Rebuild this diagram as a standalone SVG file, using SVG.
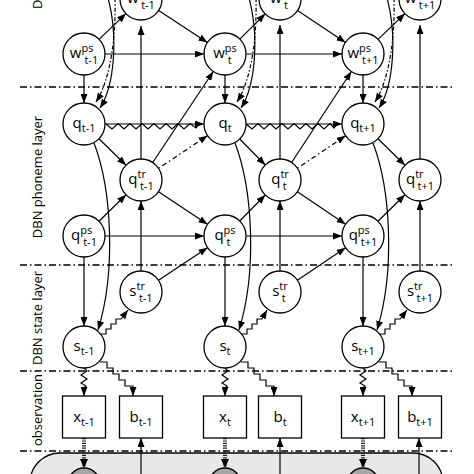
<svg xmlns="http://www.w3.org/2000/svg" width="474" height="474" viewBox="0 0 474 474">
<style>
.n{fill:#fff;stroke:#000;stroke-width:1.3}
.bx{fill:#fff;stroke:#000;stroke-width:1.3}
.t{font-family:"Open Sans","DejaVu Sans",sans-serif;font-size:15px;fill:#000;text-anchor:middle}
.s{font-size:11px}
.lay{font-family:"Open Sans","DejaVu Sans",sans-serif;font-size:13px;fill:#000}
.e{fill:none;stroke:#000;stroke-width:1.2;marker-end:url(#ah)}
.ln{fill:none;stroke:#000;stroke-width:1.2}
.dd{fill:none;stroke:#000;stroke-width:1.2;stroke-dasharray:1.5 3 5 3;marker-end:url(#ah)}
.dt{fill:none;stroke:#000;stroke-width:1.2;stroke-dasharray:4 2 1.5 2;marker-end:url(#ah)}
.sep{fill:none;stroke:#000;stroke-width:1.5;stroke-dasharray:7 3 1.5 3}
.thk{fill:none;stroke:#222;stroke-width:4;stroke-dasharray:1.2 1.2;marker-end:url(#ah2)}
</style>
<defs>
<marker id="ah" markerUnits="userSpaceOnUse" viewBox="0 0 9 7" markerWidth="9" markerHeight="7" refX="9" refY="3.5" orient="auto"><path d="M0,0 L9,3.5 L0,7 z" fill="#000"/></marker>
<marker id="ah2" markerUnits="userSpaceOnUse" viewBox="0 0 9 8" markerWidth="9" markerHeight="8" refX="8" refY="4" orient="auto"><path d="M0,0 L9,4 L0,8 z" fill="#000"/></marker>
</defs>
<rect width="474" height="474" fill="#fff"/>

<g id="separators">
<line class="sep" x1="20" y1="87" x2="452" y2="87"/>
<line class="sep" x1="20" y1="265" x2="452" y2="265"/>
<line class="sep" x1="20" y1="371" x2="452" y2="371"/>
<line class="sep" x1="20" y1="451" x2="452" y2="451"/>
</g>

<g id="layer-labels">
<text class="lay" transform="translate(42,9) rotate(-90)">DBN word layer</text>
<text class="lay" transform="translate(42,177) rotate(-90)" text-anchor="middle">DBN phoneme layer</text>
<text class="lay" transform="translate(42,318) rotate(-90)" text-anchor="middle">DBN state layer</text>
<text class="lay" transform="translate(42,410) rotate(-90)" text-anchor="middle">observation</text>
</g>

<g id="feature-band">
<rect x="30" y="453" width="413" height="60" rx="30" ry="30" fill="#e8e8e8" stroke="#000" stroke-width="1.3"/>
<circle cx="84" cy="484" r="16" fill="#a6a6a6" stroke="#000" stroke-width="1.3"/>
<circle cx="225" cy="484" r="16" fill="#a6a6a6" stroke="#000" stroke-width="1.3"/>
<circle cx="363" cy="484" r="16" fill="#a6a6a6" stroke="#000" stroke-width="1.3"/>
</g>

<g id="connectors">
<line class="e" x1="99" y1="39.4" x2="125.9" y2="13.6"/>
<line class="e" x1="239.8" y1="39.2" x2="265.2" y2="13.8"/>
<line class="e" x1="378.1" y1="39.4" x2="404.9" y2="13.6"/>
<line class="e" x1="158.6" y1="10.5" x2="207.4" y2="42.5"/>
<line class="e" x1="297.5" y1="10.6" x2="345.5" y2="42.4"/>
<line class="e" x1="105" y1="54" x2="204" y2="54"/>
<line class="e" x1="246" y1="54" x2="342" y2="54"/>
<line class="e" x1="84" y1="75" x2="84" y2="103"/>
<line class="e" x1="225" y1="75" x2="225" y2="103"/>
<line class="e" x1="363" y1="75" x2="363" y2="103"/>
<line class="e" x1="141" y1="159" x2="141" y2="26"/>
<line class="e" x1="280" y1="159" x2="280" y2="25"/>
<line class="e" x1="420" y1="159" x2="420" y2="25"/>
<path class="e" d="M108,-2 C118,35 115,85 100,108"/>
<path class="dt" d="M115,-2 C116,40 110,80 96,102"/>
<path class="e" d="M249,-2 C259,35 256,85 241,108"/>
<path class="dt" d="M256,-2 C257,40 251,80 237,102"/>
<path class="e" d="M387,-2 C397,35 394,85 379,108"/>
<path class="dt" d="M394,-2 C395,40 389,80 375,102"/>
<line class="e" x1="105" y1="124" x2="204" y2="124"/>
<polyline class="ln" points="106,124 112,129 118,123.5 124,129 130,123.5 136,129 142,123.5 148,129 154,123.5 160,129 166,123.5 172,129 178,123.5 184,129 190,123.5 196,128 199,124"/>
<line class="e" x1="246" y1="124" x2="342" y2="124"/>
<polyline class="ln" points="246,124 252,129 258,123.5 264,129 270,123.5 276,129 282,123.5 288,129 294,123.5 300,129 306,123.5 312,129 318,123.5 324,129 330,123.5 334,128 337,124"/>
<line class="e" x1="99" y1="138.7" x2="126" y2="165.3"/>
<line class="e" x1="239.7" y1="139" x2="265.3" y2="165"/>
<line class="e" x1="378" y1="138.7" x2="405" y2="165.3"/>
<line class="e" x1="152.7" y1="162.5" x2="213.3" y2="71.5"/>
<line class="e" x1="291.6" y1="162.5" x2="351.4" y2="71.5"/>
<line class="dd" x1="158.5" y1="168.3" x2="207.5" y2="135.7"/>
<line class="dd" x1="297.4" y1="168.3" x2="345.6" y2="135.7"/>
<line class="e" x1="158.5" y1="191.7" x2="207.5" y2="224.3"/>
<line class="e" x1="297.4" y1="191.7" x2="345.6" y2="224.3"/>
<line class="e" x1="99" y1="221.3" x2="126" y2="194.7"/>
<line class="e" x1="239.7" y1="221" x2="265.3" y2="195"/>
<line class="e" x1="378" y1="221.3" x2="405" y2="194.7"/>
<line class="e" x1="105" y1="236" x2="204" y2="236"/>
<line class="e" x1="246" y1="236" x2="342" y2="236"/>
<line class="e" x1="141" y1="271" x2="141" y2="201"/>
<line class="e" x1="280" y1="271" x2="280" y2="201"/>
<line class="e" x1="420" y1="271" x2="420" y2="201"/>
<line class="e" x1="158.5" y1="280.3" x2="207.5" y2="247.7"/>
<line class="e" x1="297.4" y1="280.3" x2="345.6" y2="247.7"/>
<line class="e" x1="84" y1="257" x2="84" y2="326"/>
<line class="e" x1="225" y1="257" x2="225" y2="326"/>
<line class="e" x1="363" y1="257" x2="363" y2="326"/>
<path class="e" d="M94,143 C112,190 116,272 98,330"/>
<path class="e" d="M235,143 C253,190 257,272 239,330"/>
<path class="e" d="M373,143 C391,190 395,272 377,330"/>
<path class="e" d="M100,334 h6 v-5 h5 v-5 h5 v-5 h5 L128,310"/>
<path class="e" d="M241,334 h6 v-5 h5 v-5 h5 v-5 h5 L267,310"/>
<path class="e" d="M379,334 h6 v-5 h5 v-5 h5 v-5 h5 L407,310"/>
<path class="e" d="M84,368 L87,371 L81,375 L87,379 L81,383 L86,386 L84,388 L84,396"/>
<path class="e" d="M225,368 L228,371 L222,375 L228,379 L222,383 L227,386 L225,388 L225,396"/>
<path class="e" d="M363,368 L366,371 L360,375 L366,379 L360,383 L365,386 L363,388 L363,396"/>
<path class="e" d="M100,362 h7 v6 h6 v6 h6 v6 h6 v6 h8 v10"/>
<path class="e" d="M241,362 h7 v6 h6 v6 h6 v6 h6 v6 h8 v10"/>
<path class="e" d="M379,362 h7 v6 h6 v6 h6 v6 h6 v6 h8 v10"/>
<line class="thk" x1="84" y1="438" x2="84" y2="467"/>
<line class="thk" x1="225" y1="438" x2="225" y2="467"/>
<line class="thk" x1="363" y1="438" x2="363" y2="467"/>
<line class="e" x1="141" y1="476" x2="141" y2="438"/>
<line class="e" x1="280" y1="476" x2="280" y2="438"/>
<line class="e" x1="419" y1="476" x2="419" y2="438"/>
</g>

<g id="wtr_tm1"><circle class="n" cx="141" cy="-1" r="21"/><text class="t" x="141" y="3">w<tspan class="s" dy="-6">tr</tspan><tspan class="s" dx="-6" dy="12">t-1</tspan></text></g>
<g id="wtr_t"><circle class="n" cx="280" cy="-1" r="21"/><text class="t" x="280" y="3">w<tspan class="s" dy="-6">tr</tspan><tspan class="s" dx="-6" dy="12">t</tspan></text></g>
<g id="wtr_tp1"><circle class="n" cx="420" cy="-1" r="21"/><text class="t" x="420" y="3">w<tspan class="s" dy="-6">tr</tspan><tspan class="s" dx="-6" dy="12">t+1</tspan></text></g>

<g id="wps_tm1"><circle class="n" cx="84" cy="54" r="21"/><text class="t" x="84" y="58">w<tspan class="s" dy="-6">ps</tspan><tspan class="s" dx="-9" dy="12">t-1</tspan></text></g>
<g id="wps_t"><circle class="n" cx="225" cy="54" r="21"/><text class="t" x="225" y="58">w<tspan class="s" dy="-6">ps</tspan><tspan class="s" dx="-9" dy="12">t</tspan></text></g>
<g id="wps_tp1"><circle class="n" cx="363" cy="54" r="21"/><text class="t" x="363" y="58">w<tspan class="s" dy="-6">ps</tspan><tspan class="s" dx="-9" dy="12">t+1</tspan></text></g>

<g id="q_tm1"><circle class="n" cx="84" cy="124" r="21"/><text class="t" x="84" y="128">q<tspan class="s" dy="4">t-1</tspan></text></g>
<g id="q_t"><circle class="n" cx="225" cy="124" r="21"/><text class="t" x="225" y="128">q<tspan class="s" dy="4">t</tspan></text></g>
<g id="q_tp1"><circle class="n" cx="363" cy="124" r="21"/><text class="t" x="363" y="128">q<tspan class="s" dy="4">t+1</tspan></text></g>

<g id="qtr_tm1"><circle class="n" cx="141" cy="180" r="21"/><text class="t" x="141" y="184">q<tspan class="s" dy="-6">tr</tspan><tspan class="s" dx="-6" dy="12">t-1</tspan></text></g>
<g id="qtr_t"><circle class="n" cx="280" cy="180" r="21"/><text class="t" x="280" y="184">q<tspan class="s" dy="-6">tr</tspan><tspan class="s" dx="-6" dy="12">t</tspan></text></g>
<g id="qtr_tp1"><circle class="n" cx="420" cy="180" r="21"/><text class="t" x="420" y="184">q<tspan class="s" dy="-6">tr</tspan><tspan class="s" dx="-6" dy="12">t+1</tspan></text></g>

<g id="qps_tm1"><circle class="n" cx="84" cy="236" r="21"/><text class="t" x="84" y="240">q<tspan class="s" dy="-6">ps</tspan><tspan class="s" dx="-9" dy="12">t-1</tspan></text></g>
<g id="qps_t"><circle class="n" cx="225" cy="236" r="21"/><text class="t" x="225" y="240">q<tspan class="s" dy="-6">ps</tspan><tspan class="s" dx="-9" dy="12">t</tspan></text></g>
<g id="qps_tp1"><circle class="n" cx="363" cy="236" r="21"/><text class="t" x="363" y="240">q<tspan class="s" dy="-6">ps</tspan><tspan class="s" dx="-9" dy="12">t+1</tspan></text></g>

<g id="str_tm1"><circle class="n" cx="141" cy="292" r="21"/><text class="t" x="141" y="296">s<tspan class="s" dy="-6">tr</tspan><tspan class="s" dx="-6" dy="12">t-1</tspan></text></g>
<g id="str_t"><circle class="n" cx="280" cy="292" r="21"/><text class="t" x="280" y="296">s<tspan class="s" dy="-6">tr</tspan><tspan class="s" dx="-6" dy="12">t</tspan></text></g>
<g id="str_tp1"><circle class="n" cx="420" cy="292" r="21"/><text class="t" x="420" y="296">s<tspan class="s" dy="-6">tr</tspan><tspan class="s" dx="-6" dy="12">t+1</tspan></text></g>

<g id="s_tm1"><circle class="n" cx="84" cy="347" r="21"/><text class="t" x="84" y="351">s<tspan class="s" dy="4">t-1</tspan></text></g>
<g id="s_t"><circle class="n" cx="225" cy="347" r="21"/><text class="t" x="225" y="351">s<tspan class="s" dy="4">t</tspan></text></g>
<g id="s_tp1"><circle class="n" cx="363" cy="347" r="21"/><text class="t" x="363" y="351">s<tspan class="s" dy="4">t+1</tspan></text></g>

<g id="x_tm1"><rect class="bx" x="62.5" y="396" width="43" height="42"/><text class="t" x="84" y="422">x<tspan class="s" dy="4">t-1</tspan></text></g>
<g id="b_tm1"><rect class="bx" x="119.5" y="396" width="43" height="42"/><text class="t" x="141" y="422">b<tspan class="s" dy="4">t-1</tspan></text></g>
<g id="x_t"><rect class="bx" x="203.5" y="396" width="43" height="42"/><text class="t" x="225" y="422">x<tspan class="s" dy="4">t</tspan></text></g>
<g id="b_t"><rect class="bx" x="258.5" y="396" width="43" height="42"/><text class="t" x="280" y="422">b<tspan class="s" dy="4">t</tspan></text></g>
<g id="x_tp1"><rect class="bx" x="341.5" y="396" width="43" height="42"/><text class="t" x="363" y="422">x<tspan class="s" dy="4">t+1</tspan></text></g>
<g id="b_tp1"><rect class="bx" x="398.5" y="396" width="43" height="42"/><text class="t" x="420" y="422">b<tspan class="s" dy="4">t+1</tspan></text></g>
</svg>
